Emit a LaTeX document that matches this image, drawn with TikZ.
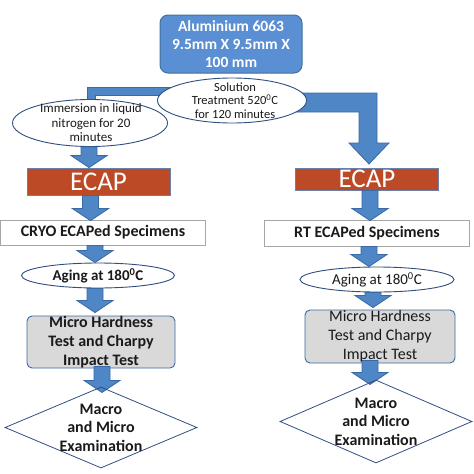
\documentclass[tikz,border=0pt]{standalone}
\usepackage{fontspec}
\setmainfont{Carlito}
\usetikzlibrary{shapes.geometric,calc}
\definecolor{arrfill}{HTML}{4F86C6}
\definecolor{arrline}{HTML}{3A6AA5}
\definecolor{topfill}{HTML}{5A8FD3}
\definecolor{topline}{HTML}{41719C}
\definecolor{ecapfill}{HTML}{BD4A26}
\definecolor{ecapline}{HTML}{6B7FA8}
\definecolor{ellline}{HTML}{2F4F7F}
\definecolor{boxline}{HTML}{A6A6A6}
\definecolor{grayfill}{HTML}{D9D9D9}
\definecolor{txt}{HTML}{1A1A1A}
\tikzset{
  blockarr/.style={fill=arrfill,draw=arrline,line width=0.8pt},
  topbox/.style={draw=topline,fill=topfill,rounded corners=8pt,line width=1pt,minimum width=142pt,minimum height=58pt,inner sep=0pt},
  ell/.style={ellipse,draw=ellline,fill=white,line width=0.9pt,inner sep=0pt},
  ecapbox/.style={draw=ecapline,fill=ecapfill,line width=0.8pt,minimum width=143pt,inner sep=0pt,text=white,font=\fontsize{27}{29}\selectfont},
  specbox/.style={draw=boxline,fill=white,line width=0.8pt,minimum width=205pt,minimum height=25pt,inner sep=0pt,text=txt},
  microbox/.style={draw=arrline,fill=grayfill,rounded corners=5pt,line width=0.9pt,inner sep=0pt,text=txt,align=center},
  dia/.style={diamond,draw=ellline,line width=0.8pt,inner sep=0pt,minimum width=192pt},
  lbl/.style={align=center,text=txt,inner sep=0pt}
}
% vertical block arrow: from point #1 (x and top y) down to y of point #2
\newcommand\barrow[2]{%
  \path let \p1=#1, \p2=#2 in
  [blockarr] ({\x1-8pt},\y1) -- ({\x1-8pt},{\y2+12pt}) -- ({\x1-18pt},{\y2+12pt})
   -- (\x1,\y2) -- ({\x1+18pt},{\y2+12pt}) -- ({\x1+8pt},{\y2+12pt}) -- ({\x1+8pt},\y1) -- cycle;}
\begin{document}
\begin{tikzpicture}[x=1pt,y=-1pt]
\useasboundingbox (0,0) rectangle (474,474);
% ---- nodes (shapes) ----
\node[topbox] (top) at (231,44) {};
% left thin elbow band
\path[blockarr,line width=0.7pt] (190,87.5) -- (87,87.5) -- (87,110) -- (95,110) -- (95,95.5) -- (190,95.5) -- cycle;
% right big elbow arrow
\path[blockarr] (290,93) -- (377,93) -- (377,143) -- (389,143) -- (369,164) -- (349,143) -- (359,143) -- (359,112) -- (290,112) -- cycle;
\node[ell,minimum width=149pt,minimum height=45pt] (sol) at (232,100.5) {};
\node[ell,minimum width=155pt,minimum height=47pt] (iml) at (90,123) {};
\node[ecapbox,minimum height=27pt] (ecl) at (98.5,181.5) {ECAP};
\node[ecapbox,minimum height=22pt] (ecr) at (367,179) {ECAP};
\node[specbox] (cryo) at (103,232.5) {\fontsize{16}{18}\selectfont\bfseries CRYO ECAPed Specimens};
\node[specbox,minimum height=26pt] (rt) at (367,233) {\fontsize{16}{18}\selectfont\bfseries RT ECAPed Specimens};
% arrows
\barrow{($(iml.south)+(-1,0)$)}{(ecl.north)}
\barrow{($(ecl.south)+(-8,0)$)}{($(cryo.north)+(0,1)$)}
\barrow{($(ecr.south)+(3,0)$)}{($(rt.north)+(0,1)$)}
\node[ell,minimum width=153pt,minimum height=25pt] (agl) at (98,275.5) {};
\node[ell,minimum width=154pt,minimum height=25pt] (agr) at (377,279.5) {};
\barrow{($(cryo.south)+(-8,0)$)}{(agl.north)}
\barrow{($(rt.south)+(2,0)$)}{(agr.north)}
\node[microbox,minimum width=148pt,minimum height=52pt] (mhl) at (101,342) {};
\node[microbox,minimum width=150pt,minimum height=53pt] (mhr) at (380,336.5) {};
\barrow{($(agl.south)+(-3,0)$)}{($(mhl.north)+(0,-3)$)}
\barrow{($(agr.south)+(-4,0)$)}{($(mhr.north)+(0,-2)$)}
\barrow{($(mhl.south)+(1,-2)$)}{($(mhl.south)+(1,24)$)}
\barrow{($(mhr.south)+(-10,-3)$)}{($(mhr.south)+(-10,21)$)}
\node[dia,minimum height=81pt] (dml) at (101,427.5) {};
\node[dia,minimum height=83pt] (dmr) at (376,421.5) {};
% ---- texts ----
\node[lbl,text=white,font=\fontsize{15.5}{18}\selectfont\bfseries] at (top) {Aluminium 6063\\9.5mm X 9.5mm X\\100 mm};
\node[lbl,font=\fontsize{12.5}{13.5}\selectfont] at ($(sol)+(3,0)$) {Solution\\Treatment 520\textsuperscript{0}C\\for 120 minutes};
\node[lbl,font=\fontsize{13}{14.5}\selectfont] at ($(iml)+(1,0)$) {Immersion in liquid\\nitrogen for 20\\minutes};
\node[lbl,font=\fontsize{15}{17}\selectfont\bfseries] at (agl) {Aging at 180\textsuperscript{0}C};
\node[lbl,font=\fontsize{15}{17}\selectfont] at (agr) {Aging at 180\textsuperscript{0}C};
\node[lbl,font=\fontsize{16}{19}\selectfont\bfseries] at (mhl) {Micro Hardness\\Test and Charpy\\Impact Test};
\node[lbl,font=\fontsize{16}{19}\selectfont] at (mhr) {Micro Hardness\\Test and Charpy\\Impact Test};
\node[lbl,font=\fontsize{16}{18.5}\selectfont\bfseries] at (dml) {Macro\\and Micro\\Examination};
\node[lbl,font=\fontsize{16}{18.5}\selectfont\bfseries] at (dmr) {Macro\\and Micro\\Examination};
\end{tikzpicture}
\end{document}
